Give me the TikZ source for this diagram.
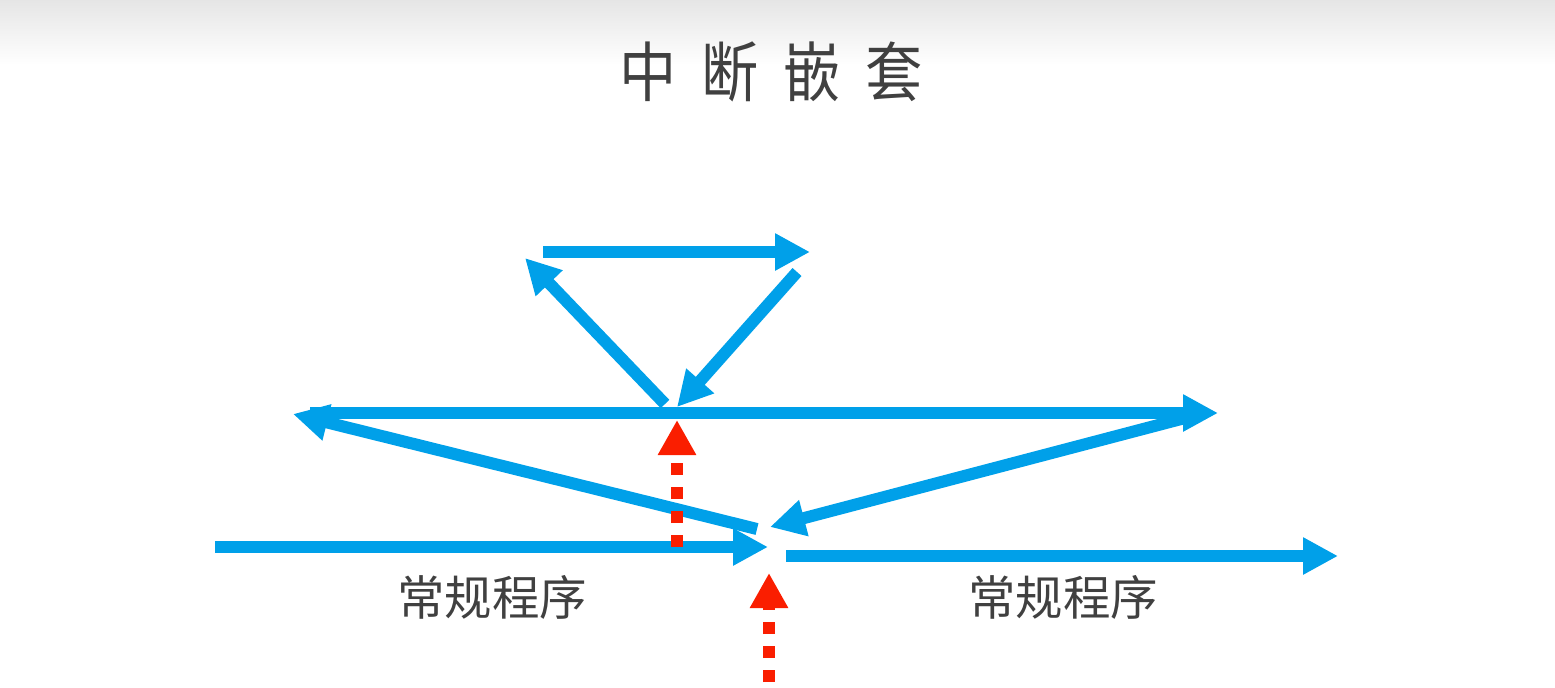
\documentclass[tikz,border=0pt]{standalone}
\usepackage{fontspec}
\usepackage{xcolor}
\usepackage{tikz}
\usetikzlibrary{arrows.meta, positioning}
\newfontfamily\cjk{Noto Sans CJK SC}
\newfontfamily\cjktitle[FakeStretch=0.88]{Noto Sans CJK SC}
\definecolor{flowblue}{RGB}{0,160,233}
\definecolor{irqred}{RGB}{250,30,0}
\definecolor{labelgray}{RGB}{64,64,64}

\begin{document}
\begin{tikzpicture}[
    flow/.style={-{Triangle[length=0.7cm, width=0.7cm]}, line width=0.24cm, draw=flowblue},
    irq/.style={-{Triangle[length=0.7cm, width=0.72cm]}, line width=0.24cm, draw=irqred, dash pattern=on 0.24cm off 0.24cm},
    lbl/.style={font=\cjk\fontsize{27}{32}\selectfont, text=labelgray, inner sep=0pt}
]
    \useasboundingbox (0,0) rectangle (31.1,-13.74);
    % Hintergrund oben
    \shade[top color=black!10, bottom color=white] (0,0) rectangle (31.1,-1.3);
    \node[font=\cjktitle\fontsize{37}{44}\selectfont, text=labelgray, inner sep=0pt] (title) at (15.42,-1.44)
        {中\hspace{0.5cm}断\hspace{0.5cm}嵌\hspace{0.5cm}套};

    % Hauptprogramm
    \coordinate (main_a) at (4.3,-10.94);
    \coordinate (main_b) at (15.36,-10.94);
    \coordinate (main_c) at (15.72,-11.12);
    \coordinate (main_d) at (26.76,-11.12);
    \draw[flow] (main_a) -- (main_b);
    \draw[flow] (main_c) -- (main_d);
    \node[lbl] (main_lbl_l) at (9.84,-11.94) {常规程序};
    \node[lbl] (main_lbl_r) at (21.26,-11.94) {常规程序};

    % erste Unterbrechung
    \coordinate (irq1_s) at (15.38,-13.74);
    \coordinate (irq1_t) at (15.38,-11.46);
    \draw[irq, dash phase=0.38cm] (irq1_s) -- (irq1_t);
    \coordinate (isr1_in_s) at (15.14,-10.58);
    \coordinate (isr1_in_t) at (5.86,-8.28);
    \coordinate (isr1_a) at (6.2,-8.26);
    \coordinate (isr1_b) at (24.36,-8.26);
    \coordinate (isr1_out_s) at (23.7,-8.36);
    \coordinate (isr1_out_t) at (15.4,-10.54);
    \draw[flow] (isr1_in_s) -- (isr1_in_t);
    \draw[flow] (isr1_a) -- (isr1_b);
    \draw[flow] (isr1_out_s) -- (isr1_out_t);

    % zweite Unterbrechung (verschachtelt)
    \coordinate (irq2_s) at (13.54,-10.94);
    \coordinate (irq2_t) at (13.54,-8.4);
    \draw[irq] (irq2_s) -- (irq2_t);
    \coordinate (isr2_in_s) at (13.3,-8.08);
    \coordinate (isr2_in_t) at (10.5,-5.16);
    \coordinate (isr2_a) at (10.86,-5.04);
    \coordinate (isr2_b) at (16.2,-5.04);
    \coordinate (isr2_out_s) at (15.94,-5.44);
    \coordinate (isr2_out_t) at (13.54,-8.14);
    \draw[flow] (isr2_in_s) -- (isr2_in_t);
    \draw[flow] (isr2_a) -- (isr2_b);
    \draw[flow] (isr2_out_s) -- (isr2_out_t);
\end{tikzpicture}
\end{document}
